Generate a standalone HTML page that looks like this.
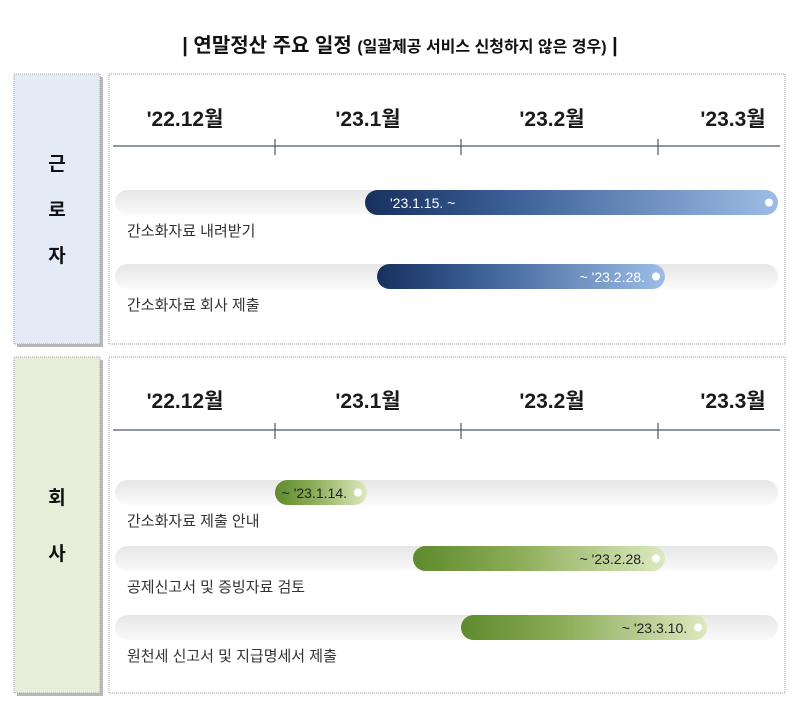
<!DOCTYPE html>
<html><head><meta charset="utf-8">
<style>
body{margin:0;background:#fff;width:800px;height:723px;overflow:hidden;font-family:"Liberation Sans","Noto Sans CJK KR",sans-serif;}
</style></head>
<body>
<svg width="800" height="723" viewBox="0 0 800 723" xmlns="http://www.w3.org/2000/svg" font-family="Liberation Sans, Noto Sans CJK KR, sans-serif">
<defs>
<linearGradient id="gb" x1="0" x2="1"><stop offset="0" stop-color="#17305e"/><stop offset="0.35" stop-color="#3b5f96"/><stop offset="1" stop-color="#9dbde6"/></linearGradient>
<linearGradient id="gg" x1="0" x2="1"><stop offset="0" stop-color="#5e8a2c"/><stop offset="0.4" stop-color="#8aab56"/><stop offset="1" stop-color="#dde9c0"/></linearGradient>
<linearGradient id="tr" x1="0" x2="0" y1="0" y2="1"><stop offset="0" stop-color="#e6e6e6"/><stop offset="1" stop-color="#fafafa"/></linearGradient>
</defs>
<text x="400" y="52" text-anchor="middle" font-size="20" font-weight="bold" fill="#111">| 연말정산 주요 일정 <tspan font-size="16">(일괄제공 서비스 신청하지 않은 경우)</tspan> |</text>
<g id="chart"></g>
</svg>
<script>
const monthLabels = ["'22.12월", "'23.1월", "'23.2월", "'23.3월"];
const groupNames = ["근로자", "회사"];
const taskNames = [["간소화자료 내려받기","간소화자료 회사 제출"],["간소화자료 제출 안내","공제신고서 및 증빙자료 검토","원천세 신고서 및 지급명세서 제출"]];
const taskStarts = [[[1,16],[1,18]],[[1,1],[1,24],[2,1]]];
const taskEnds = [[null,[2,28]],[[1,14],[2,28],[3,10]]];
const taskLabels = [["'23.1.15. ~","~ '23.2.28."],["~ '23.1.14.","~ '23.2.28.","~ '23.3.10."]];

const NS="http://www.w3.org/2000/svg";
const g=document.getElementById('chart');
function el(t,a,p){const e=document.createElementNS(NS,t);for(const k in a)e.setAttribute(k,a[k]);(p||g).appendChild(e);return e;}
const bounds=[90,275,461,658,779];
const dim=[31,31,28,31];
function xDate(d){const mi=d[0]===12?0:d[0];return bounds[mi]+(d[1]-1)/dim[mi]*(bounds[mi+1]-bounds[mi]);}
const panels=[{y:74,h:270,fill:"#e3ebf7",axis:146,lab:118,rows:[190,264],grad:"url(#gb)",txt:"#fff"},
              {y:357,h:336,fill:"#e6eed9",axis:430,lab:400,rows:[480,546,615],grad:"url(#gg)",txt:"#222"}];
panels.forEach((p,pi)=>{
  const pg=el('g',{});
  
  
  const sh=el('rect',{x:17,y:p.y+3,width:86,height:p.h,fill:"#b8b8b8"},pg);
  
  
  const lb=el('rect',{x:14,y:p.y,width:86,height:p.h,fill:p.fill,stroke:"#aaa","stroke-dasharray":"1 1"},pg);
  
  
  const chars=[...groupNames[pi]];
  const cy=p.y+p.h/2, sp=pi===0?46:56;
  chars.forEach((c,i)=>{const t=el('text',{x:57,y:cy+(i-(chars.length-1)/2)*sp+7,"text-anchor":"middle","font-size":19,"font-weight":"bold",fill:"#111"},pg);t.textContent=c;
    
    });
  const bx=el('rect',{x:109,y:p.y,width:676,height:p.h,fill:"#fff",stroke:"#999","stroke-dasharray":"1 1"},pg);
  
  
  const ax=el('line',{x1:113,x2:780,y1:p.axis,y2:p.axis,stroke:"#6a7580","stroke-width":1.5},pg);
  
  
  [1,2,3].forEach(i=>{const tk=el('line',{x1:bounds[i],x2:bounds[i],y1:p.axis-7,y2:p.axis+9,stroke:"#555","stroke-width":1.2},pg);
    
    });
  const labX=[185,368,552,733];
  monthLabels.forEach((m,i)=>{
    const t=el('text',{x:labX[i],y:p.lab+8,"text-anchor":"middle","font-size":21,fill:"#1a1a1a","font-weight":"600"},pg);t.textContent=m;
    
    });
  p.rows.forEach((ry,ri)=>{
    const h=25;
    const tr=el('rect',{x:115,y:ry,width:663,height:h,rx:12.5,fill:"url(#tr)"},pg);
    
    
    const x0=xDate(taskStarts[pi][ri]);
    const e=taskEnds[pi][ri];
    const x1=e?xDate(e)+14:778;
    const b=el('rect',{x:x0,y:ry,width:x1-x0,height:h,rx:12.5,fill:p.grad},pg);
    
    
    const dot=el('circle',{cx:x1-9,cy:ry+h/2,r:4,fill:"#fff"},pg);
    
    
    const lbl=taskLabels[pi][ri];
    const tt=el('text',{"font-size":14,fill:p.txt,y:ry+18},pg);
    if(lbl.startsWith('~')){tt.setAttribute('x',x1-20);tt.setAttribute('text-anchor','end');}
    else{tt.setAttribute('x',x0+25);}
    tt.textContent=lbl;
    
    
    const nm=el('text',{x:127,y:ry+h+21,"font-size":15,fill:"#333"},pg);
    nm.textContent=taskNames[pi][ri];
    
    
  });
});
</script>
</body></html>
